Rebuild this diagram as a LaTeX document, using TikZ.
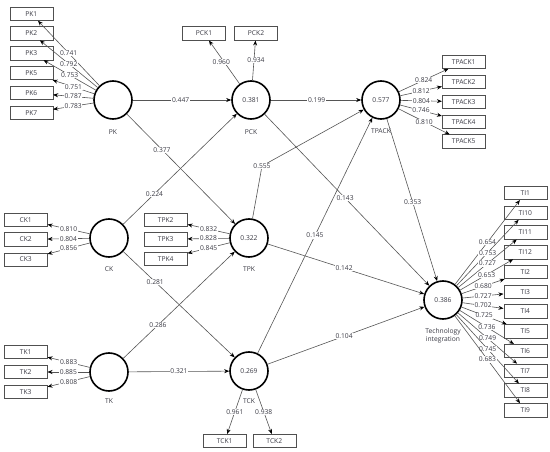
\documentclass[tikz,border=0pt]{standalone}
\usepackage{fontspec}
\setmainfont{Open Sans}
\usetikzlibrary{arrows.meta,calc}
\definecolor{txt}{HTML}{3A3A44}
\definecolor{linec}{HTML}{555555}
\definecolor{boxc}{HTML}{505050}
\begin{document}
\begin{tikzpicture}[x=1pt,y=-1pt,
  every node/.style={font=\fontsize{6.7}{7.7}\selectfont, text=txt},
  lv/.style={circle,draw=black,line width=1.6pt,fill=white,minimum size=38pt,inner sep=0pt},
  ind/.style={draw=boxc,line width=0.6pt,fill=white,minimum width=43pt,minimum height=13.5pt,inner sep=0pt},
  con/.style={draw=linec,line width=0.6pt,-{Stealth[length=5pt,width=4pt,black]}},
  lbl/.style={fill=white,inner sep=0.6pt},
  clab/.style={inner sep=0pt,align=center}
]
\useasboundingbox (0,0) rectangle (550,452);

% latent variables
\node[lv] (PK) at (113,100) {};
\node[lv] (PCK) at (251,100) {0.381};
\node[lv] (TPACK) at (381,100) {0.577};
\node[lv] (CK) at (109,238) {};
\node[lv] (TPK) at (249,238) {0.322};
\node[lv] (TI) at (443,300) {0.386};
\node[lv] (TK) at (109,372) {};
\node[lv] (TCK) at (249,371) {0.269};

\node[clab] (PKl) at (113,132) {PK};
\node[clab] (PCKl) at (251,132) {PCK};
\node[clab] (TPACKl) at (381,131) {TPACK};
\node[clab] (CKl) at (109,269) {CK};
\node[clab] (TPKl) at (249,269) {TPK};
\node[clab] (TKl) at (109,401) {TK};
\node[clab] (TCKl) at (249,401) {TCK};
\node[clab] (TIl) at (443,336) {Technology\\integration};

% indicators
\node[ind] (PK1) at (31.3,13.7) {PK1};
\node[ind] (PK2) at (31.3,33.3) {PK2};
\node[ind] (PK3) at (31.3,53.1) {PK3};
\node[ind] (PK5) at (31.3,73) {PK5};
\node[ind] (PK6) at (31.3,92.9) {PK6};
\node[ind] (PK7) at (31.3,112.7) {PK7};

\node[ind] (PCK1) at (204,33.5) {PCK1};
\node[ind] (PCK2) at (256,33.5) {PCK2};

\node[ind] (TPACK1) at (463.7,61.7) {TPACK1};
\node[ind] (TPACK2) at (463.7,81.7) {TPACK2};
\node[ind] (TPACK3) at (463.7,101.7) {TPACK3};
\node[ind] (TPACK4) at (463.7,121.7) {TPACK4};
\node[ind] (TPACK5) at (463.7,141.5) {TPACK5};

\node[ind] (CK1) at (25.7,219.7) {CK1};
\node[ind] (CK2) at (25.7,239.4) {CK2};
\node[ind] (CK3) at (25.7,259.6) {CK3};

\node[ind] (TPK2) at (165.7,219.7) {TPK2};
\node[ind] (TPK3) at (165.7,239.2) {TPK3};
\node[ind] (TPK4) at (165.7,258.7) {TPK4};

\node[ind] (TK1) at (25.7,352) {TK1};
\node[ind] (TK2) at (25.7,372) {TK2};
\node[ind] (TK3) at (25.7,392) {TK3};

\node[ind] (TCK1) at (224.7,441) {TCK1};
\node[ind] (TCK2) at (274.3,441) {TCK2};

\node[ind] (TI1) at (525.3,193) {TI1};
\node[ind] (TI10) at (525.3,212.75) {TI10};
\node[ind] (TI11) at (525.3,232.5) {TI11};
\node[ind] (TI12) at (525.3,252.25) {TI12};
\node[ind] (TI2) at (525.3,272) {TI2};
\node[ind] (TI3) at (525.3,291.75) {TI3};
\node[ind] (TI4) at (525.3,311.5) {TI4};
\node[ind] (TI5) at (525.3,331.25) {TI5};
\node[ind] (TI6) at (525.3,351) {TI6};
\node[ind] (TI7) at (525.3,370.75) {TI7};
\node[ind] (TI8) at (525.3,390.5) {TI8};
\node[ind] (TI9) at (525.3,410.25) {TI9};

% outer loadings
\draw[con] (PK) -- (PK1) node[lbl,pos=.5] {0.741};
\draw[con] (PK) -- (PK2) node[lbl,pos=.5] {0.792};
\draw[con] (PK) -- (PK3) node[lbl,pos=.5] {0.753};
\draw[con] (PK) -- (PK5) node[lbl,pos=.5] {0.751};
\draw[con] (PK) -- (PK6) node[lbl,pos=.5] {0.787};
\draw[con] (PK) -- (PK7) node[lbl,pos=.5] {0.783};

\draw[con] (PCK) -- (PCK1) node[lbl,pos=.5,xshift=-3pt] {0.960};
\draw[con] (PCK) -- (PCK2) node[lbl,pos=.5,xshift=2pt] {0.934};

\draw[con] (TPACK) -- (TPACK1) node[lbl,pos=.5] {0.824};
\draw[con] (TPACK) -- (TPACK2) node[lbl,pos=.5] {0.812};
\draw[con] (TPACK) -- (TPACK3) node[lbl,pos=.5] {0.804};
\draw[con] (TPACK) -- (TPACK4) node[lbl,pos=.5] {0.746};
\draw[con] (TPACK) -- (TPACK5) node[lbl,pos=.5] {0.810};

\draw[con] (CK) -- (CK1) node[lbl,pos=.5] {0.810};
\draw[con] (CK) -- (CK2) node[lbl,pos=.5] {0.804};
\draw[con] (CK) -- (CK3) node[lbl,pos=.5] {0.856};

\draw[con] (TPK) -- (TPK2) node[lbl,pos=.5] {0.832};
\draw[con] (TPK) -- (TPK3) node[lbl,pos=.5] {0.828};
\draw[con] (TPK) -- (TPK4) node[lbl,pos=.5] {0.845};

\draw[con] (TK) -- (TK1) node[lbl,pos=.5] {0.883};
\draw[con] (TK) -- (TK2) node[lbl,pos=.5] {0.885};
\draw[con] (TK) -- (TK3) node[lbl,pos=.5] {0.808};

\draw[con] (TCK) -- (TCK1) node[lbl,pos=.5] {0.961};
\draw[con] (TCK) -- (TCK2) node[lbl,pos=.5] {0.938};

\draw[con] (TI) -- (TI1) node[lbl,pos=.5] {0.654};
\draw[con] (TI) -- (TI10) node[lbl,pos=.5] {0.753};
\draw[con] (TI) -- (TI11) node[lbl,pos=.5] {0.727};
\draw[con] (TI) -- (TI12) node[lbl,pos=.5] {0.653};
\draw[con] (TI) -- (TI2) node[lbl,pos=.5] {0.680};
\draw[con] (TI) -- (TI3) node[lbl,pos=.5] {0.727};
\draw[con] (TI) -- (TI4) node[lbl,pos=.5] {0.702};
\draw[con] (TI) -- (TI5) node[lbl,pos=.5] {0.725};
\draw[con] (TI) -- (TI6) node[lbl,pos=.5] {0.736};
\draw[con] (TI) -- (TI7) node[lbl,pos=.5] {0.749};
\draw[con] (TI) -- (TI8) node[lbl,pos=.5] {0.745};
\draw[con] (TI) -- (TI9) node[lbl,pos=.5] {0.683};

% structural paths
\coordinate (bend) at (262,166);
\draw[con] (PK) -- (PCK);
\draw[con] (PK) -- (TPK);
\draw[con] (CK) -- (PCK);
\draw[con] (CK) -- (TCK);
\draw[con] (TK) -- (TPK);
\draw[con] (TK) -- (TCK);
\draw[con] (PCK) -- (TPACK);
\draw[con] (PCK) -- (TI);
\draw[con] (TPK) -- (bend) -- (TPACK);
\draw[con] (TPK) -- (TI);
\draw[con] (TCK) -- (TPACK);
\draw[con] (TCK) -- (TI);
\draw[con] (TPACK) -- (TI);

\node[lbl] (l447) at ($(PK)!.49!(PCK)$) {0.447};
\node[lbl] (l377) at ($(PK)!.36!(TPK)$) {0.377};
\node[lbl] (l224) at ($(CK)!.32!(PCK)$) {0.224};
\node[lbl] (l281) at ($(CK)!.33!(TCK)$) {0.281};
\node[lbl] (l286) at ($(TK)!.35!(TPK)$) {0.286};
\node[lbl] (l321) at ($(TK)!.50!(TCK)$) {0.321};
\node[lbl] (l199) at ($(PCK)!.505!(TPACK)$) {0.199};
\node[lbl] (l143) at ($(PCK)!.49!(TI)$) {0.143};
\node[lbl] (l555) at (bend) {0.555};
\node[lbl] (l142) at ($(TPK)!.49!(TI)$) {0.142};
\node[lbl] (l145) at ($(TCK)!.5!(TPACK)$) {0.145};
\node[lbl] (l104) at ($(TCK)!.49!(TI)$) {0.104};
\node[lbl] (l353) at ($(TPACK)!.51!(TI)$) {0.353};
\end{tikzpicture}
\end{document}
